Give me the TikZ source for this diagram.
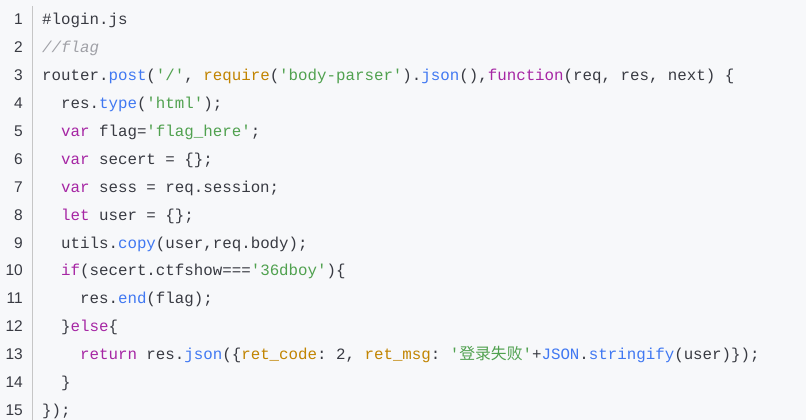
\documentclass[tikz,border=0pt]{standalone}
\usepackage{fontspec}
\setmonofont{Liberation Mono}
\setmainfont{Liberation Sans}
\newfontfamily\cjk{Noto Sans CJK SC}
\definecolor{bgc}{HTML}{F7F8FA}
\definecolor{txt}{HTML}{383A42}
\definecolor{kw}{HTML}{A626A4}
\definecolor{fn}{HTML}{4078F2}
\definecolor{st}{HTML}{50A14F}
\definecolor{pr}{HTML}{C18401}
\definecolor{cm}{HTML}{A0A1A7}
\newcommand\Kw[1]{\textcolor{kw}{#1}}
\newcommand\Fn[1]{\textcolor{fn}{#1}}
\newcommand\St[1]{\textcolor{st}{#1}}
\newcommand\Pp[1]{\textcolor{pr}{#1}}
\begin{document}
\begin{tikzpicture}[x=1pt,y=-1pt,
  code/.style={anchor=base west,inner sep=0pt,text=txt,font=\ttfamily\fontsize{15.8}{18}\selectfont},
  num/.style={anchor=base east,inner sep=0pt,text=txt,font=\fontsize{15.5}{18}\selectfont}]
\fill[bgc] (0,0) rectangle (806,420);
\useasboundingbox (0,0) rectangle (806,420);
\draw[gray!45,line width=1pt] (32,6) -- (32,420);
\foreach \i in {1,...,15}{\node[num] (n\i) at (23,{25+27.88*(\i-1)}) {\i};}
\def\cw{9.48}
\node[code] (c1) at (42,25) {\#login.js};
\node[code] (c2) at (42,{25+27.88}) {\textcolor{cm}{\itshape //flag}};
\node[code] (c3) at (42,{25+2*27.88}) {router.\Fn{post}(\St{'/'}, \Pp{require}(\St{'body-parser'}).\Fn{json}(),\Kw{function}(req, res, next) \{};
\node[code] (c4) at ({42+2*\cw},{25+3*27.88}) {res.\Fn{type}(\St{'html'});};
\node[code] (c5) at ({42+2*\cw},{25+4*27.88}) {\Kw{var} flag=\St{'flag\_here'};};
\node[code] (c6) at ({42+2*\cw},{25+5*27.88}) {\Kw{var} secert = \{\};};
\node[code] (c7) at ({42+2*\cw},{25+6*27.88}) {\Kw{var} sess = req.session;};
\node[code] (c8) at ({42+2*\cw},{25+7*27.88}) {\Kw{let} user = \{\};};
\node[code] (c9) at ({42+2*\cw},{25+8*27.88}) {utils.\Fn{copy}(user,req.body);};
\node[code] (c10) at ({42+2*\cw},{25+9*27.88}) {\Kw{if}(secert.ctfshow===\St{'36dboy'})\{};
\node[code] (c11) at ({42+4*\cw},{25+10*27.88}) {res.\Fn{end}(flag);};
\node[code] (c12) at ({42+2*\cw},{25+11*27.88}) {\}\Kw{else}\{};
\node[code] (c13) at ({42+4*\cw},{25+12*27.88}) {\Kw{return} res.\Fn{json}(\{\Pp{ret\_code}: 2, \Pp{ret\_msg}: \St{'{\cjk 登录失败}'}+\Fn{JSON}.\Fn{stringify}(user)\});};
\node[code] (c14) at ({42+2*\cw},{25+13*27.88}) {\}};
\node[code] (c15) at (42,{25+14*27.88}) {\});};
\end{tikzpicture}
\end{document}
